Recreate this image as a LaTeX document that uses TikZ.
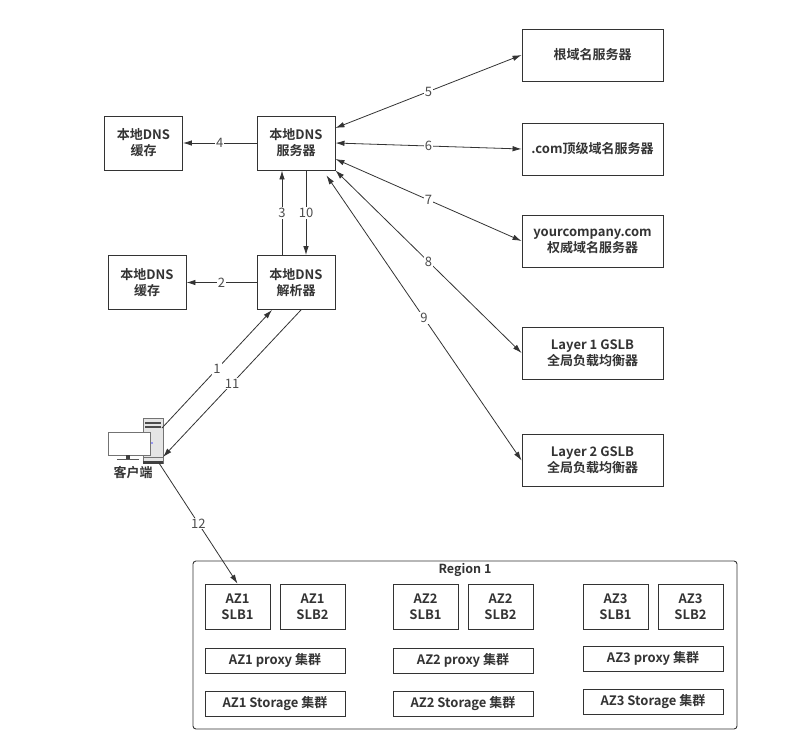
\documentclass[tikz,border=0pt]{standalone}
\usepackage{fontspec}
\setmainfont{Noto Sans CJK SC}[BoldFont={Noto Sans CJK SC Bold}]
\usetikzlibrary{arrows.meta}

\tikzset{
  box/.style={draw, line width=0.9pt, align=center, inner sep=2pt,
    font=\fontsize{13}{16}\selectfont\bfseries,
    minimum width=78pt, minimum height=54pt},
  widebox/.style={box, minimum width=141pt, minimum height=52pt},
  slbbox/.style={box, minimum width=65pt, minimum height=45pt},
  barbox/.style={box, minimum width=140pt, minimum height=25pt},
  lbl/.style={fill=white, inner sep=1pt, text=black!70,
    font=\fontsize{13}{13}\selectfont},
}

\begin{document}
\begin{tikzpicture}[x=1pt, y=-1pt, color=black!80, line width=0.8pt,
    >={Latex[length=9pt,width=5.5pt]}]
          \useasboundingbox (0,0) rectangle (802,755);
          % DNS side
          \node[box] (cache1) at (143.5,143) {本地DNS\\缓存};
          \node[box] (srv) at (296,143) {本地DNS\\服务器};
          \node[box] (cache2) at (147,282.5) {本地DNS\\缓存};
          \node[box] (rsv) at (296,282.5) {本地DNS\\解析器};
          \node[widebox] (root) at (592.5,55) {根域名服务器};
          \node[widebox] (com) at (592.5,149) {.com顶级域名服务器};
          \node[widebox] (auth) at (592.5,241) {yourcompany.com\\权威域名服务器};
          \node[widebox] (gslb1) at (592.5,353) {Layer 1 GSLB\\全局负载均衡器};
          \node[widebox] (gslb2) at (592.5,460.5) {Layer 2 GSLB\\全局负载均衡器};
          % client
          \draw[black!55, line width=0.6pt, fill=black!10] (143,418) rectangle (163,463);
          \fill[black!70] (145,422) rectangle (161,424);
          \fill[black!70] (145,426) rectangle (161,428);
          \fill[blue!70] (152,443) circle (0.9);
          \draw[black!55, line width=0.6pt] (143,457) -- (163,457);
          \fill[black!75] (143,461) rectangle (163,463.5);
          \draw[black!55, line width=0.6pt, fill=white] (108,432) rectangle (150,455);
          \fill[black!75] (126,455) rectangle (130,459);
          \draw[black!65, line width=1pt] (117,459.5) -- (139,459.5);
          \node[font=\fontsize{13}{16}\selectfont\bfseries] (client) at (133,473) {客户端};
          \coordinate (c-out) at (162,428);
          \coordinate (c-in) at (163,457);
          \coordinate (c-net) at (159,463);
          % region
          \node[draw, line width=0.9pt, rounded corners=3pt,
            minimum width=544pt, minimum height=168pt] (region) at (465,645) {};
          \node[font=\fontsize{12.5}{15}\selectfont\bfseries] (regname) at (465,570) {Region 1};
          \foreach \i/\x/\dy in {1/275/0, 2/463/0, 3/653/2} {
            \node[slbbox] (az\i-slb1) at (\x-37.5,606.5) {AZ\i\\SLB1};
            \node[slbbox] (az\i-slb2) at (\x+37.5,606.5) {AZ\i\\SLB2};
            \node[barbox] (az\i-proxy) at (\x,660.5-\dy) {AZ\i\ proxy 集群};
            \node[barbox] (az\i-store) at (\x,703.5-\dy) {AZ\i\ Storage 集群};
          }
          % flows
          \draw[->] (c-out) to node[lbl]{1} ([xshift=-24pt]rsv.south);
          \draw[->] (rsv) to node[lbl]{2} (cache2);
          \draw[->] ([xshift=-14pt]rsv.north) to node[lbl]{3} ([xshift=-14pt]srv.south);
          \draw[->] (srv) to node[lbl]{4} (cache1);
          \draw[<->] ([yshift=15pt]srv.east) to node[lbl]{5} (root.west);
          \draw[<->] (srv.east) to node[lbl]{6} (com.west);
          \draw[<->] ([yshift=-16pt]srv.east) to node[lbl]{7} (auth.west);
          \draw[<->] (srv.south east) to node[lbl]{8} (gslb1.west);
          \draw[<->] ([xshift=-9pt,yshift=-5pt]srv.south east) to node[lbl]{9} (gslb2.west);
          \draw[->] ([xshift=10pt]srv.south) to node[lbl]{10} ([xshift=10pt]rsv.north);
          \draw[->] ([xshift=5pt]rsv.south) to node[lbl]{11} (c-in);
          \draw[->] (c-net) to node[lbl]{12} (az1-slb1.north);
        \end{tikzpicture}
\end{document}
